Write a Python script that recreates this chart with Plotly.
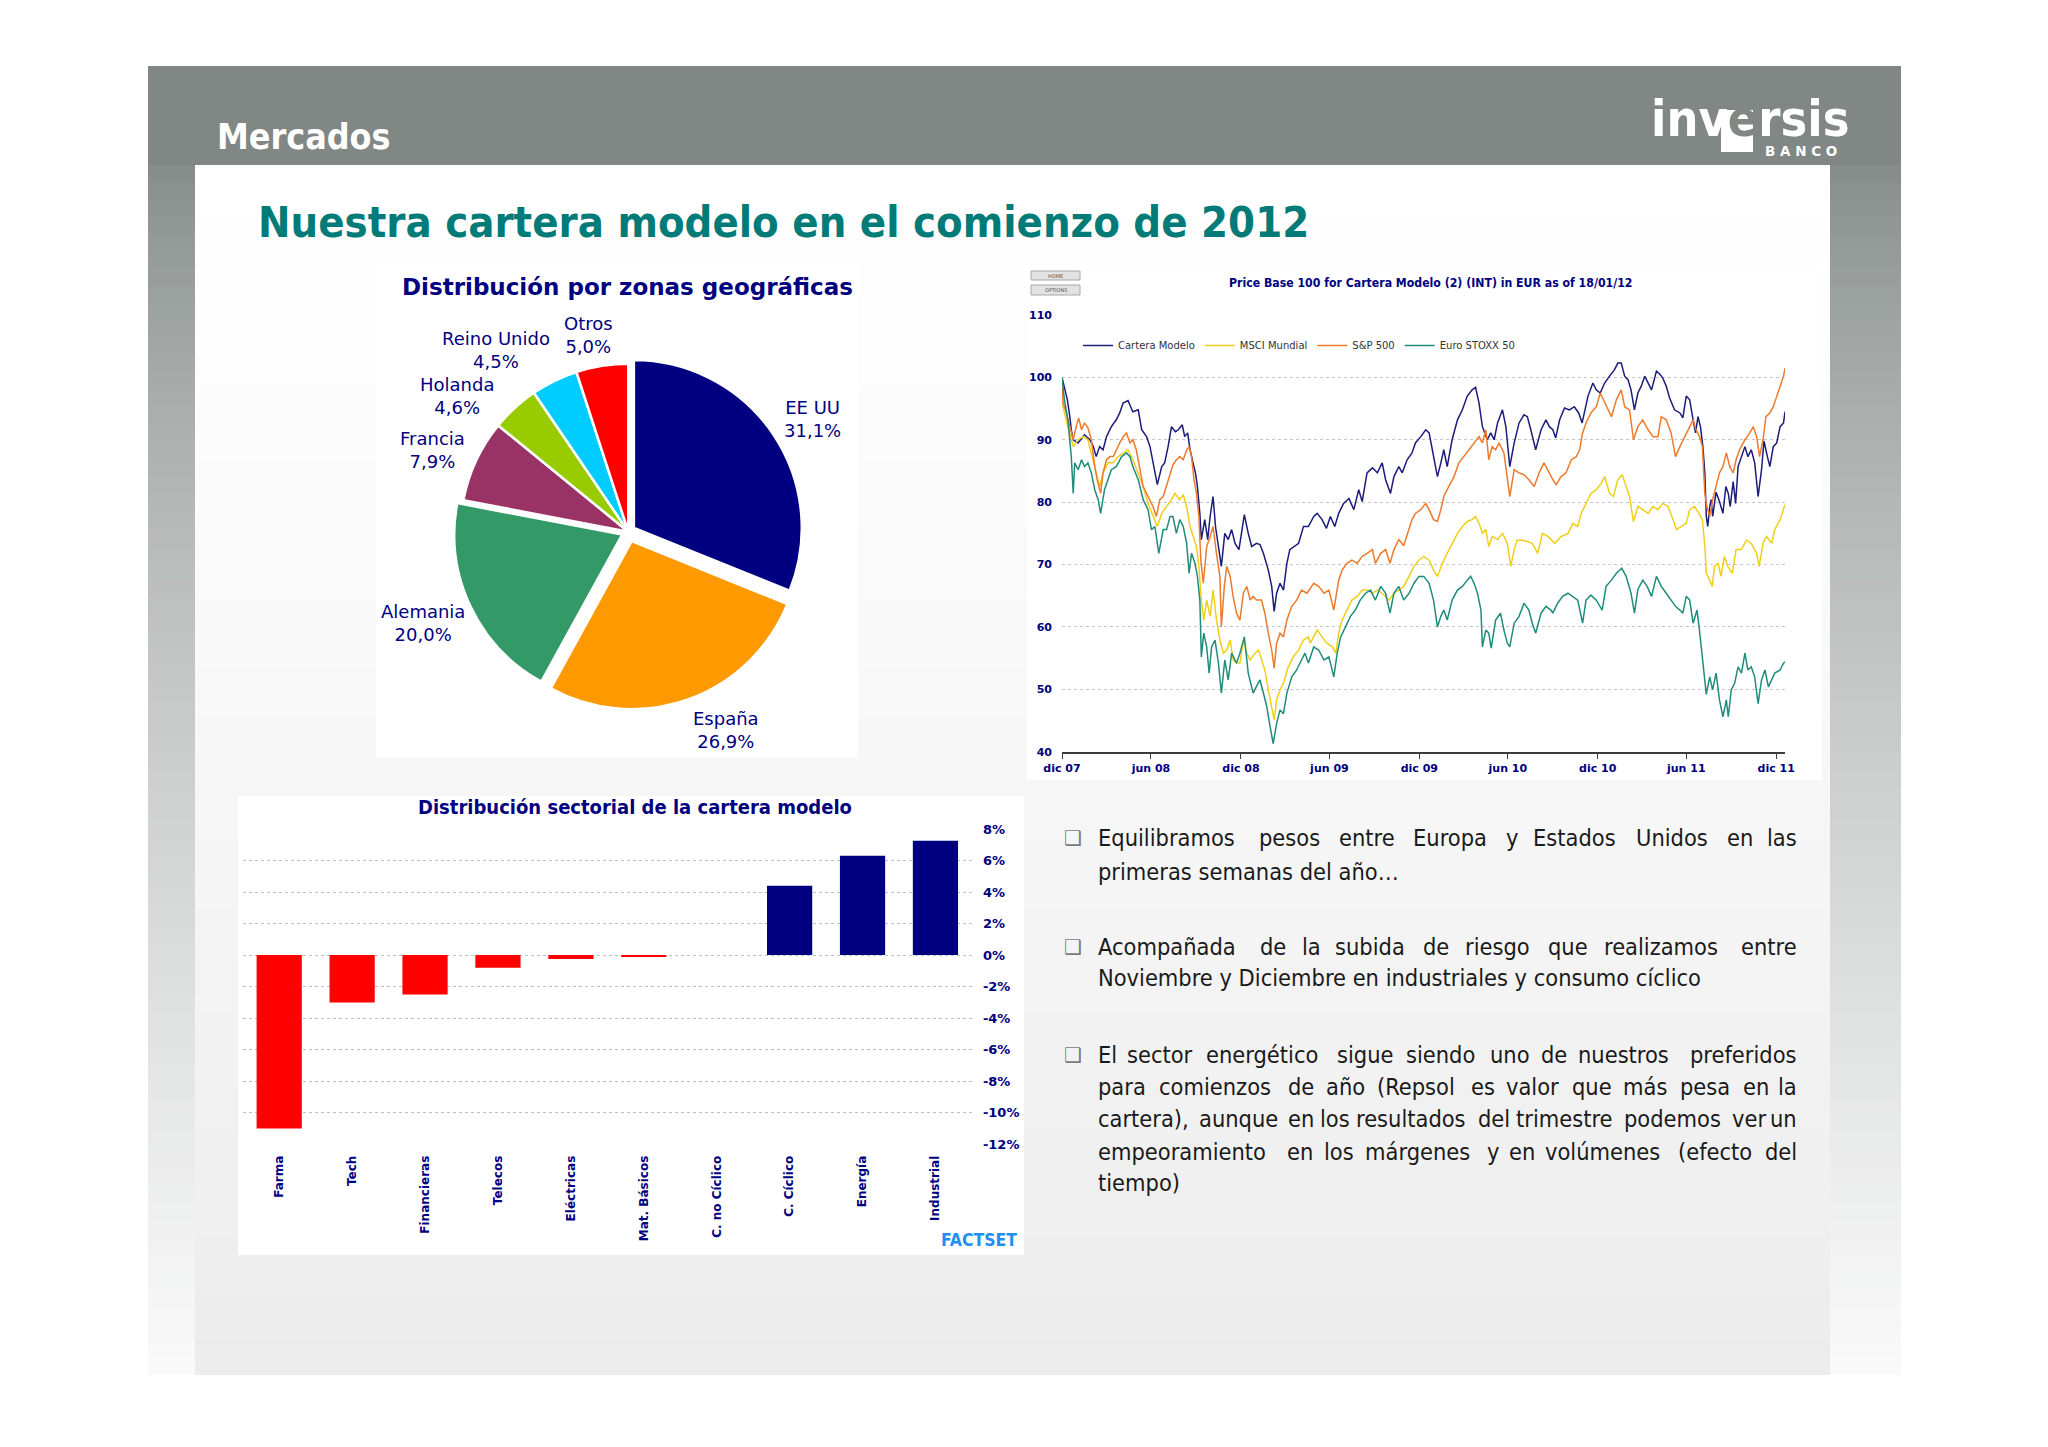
import plotly.graph_objects as go
import pandas as pd

W, H = 2048, 1447


def X(p):
    return p / W


def Y(p):
    return 1 - p / H


NAVY = '#000080'
F_V = 'DejaVu Sans'
F_T = 'DejaVu Sans Condensed, DejaVu Sans'

# ---------------- data: pie ----------------
pie_labels = ['EE UU', 'España', 'Alemania', 'Francia', 'Holanda', 'Reino Unido', 'Otros']
pie_values = [31.1, 26.9, 20.0, 7.9, 4.6, 4.5, 5.0]
pie_colors = ['#000080', '#FF9900', '#339966', '#993366', '#99CC00', '#00CCFF', '#FF0000']
pie_pull = [0.04, 0.06, 0.04, 0, 0, 0, 0]

# ---------------- data: bars ----------------
sectors = ['Farma', 'Tech', 'Financieras', 'Telecos', 'Eléctricas', 'Mat. Básicos',
           'C. no Cíclico', 'C. Cíclico', 'Energía', 'Industrial']
sector_values = [-11.0, -3.0, -2.5, -0.8, -0.25, -0.1, 0.0, 4.4, 6.3, 7.25]
bar_ticks = [-12, -10, -8, -6, -4, -2, 0, 2, 4, 6, 8]

# ---------------- data: lines (days since 31/12/2007, value) ----------------
series_start = '2007-12-31'
series_end = '2012-01-18'
line_ticks = ['2007-12-31', '2008-06-30', '2008-12-31', '2009-06-30', '2009-12-31',
              '2010-06-30', '2010-12-31', '2011-06-30', '2011-12-31']
line_tick_labels = ['dic 07', 'jun 08', 'dic 08', 'jun 09', 'dic 09',
                    'jun 10', 'dic 10', 'jun 11', 'dic 11']
y_ticks_line = [40, 50, 60, 70, 80, 90, 100, 110]

cartera = [(0,100),(7,98.0),(11,96.4),(16,93.7),(19,91.6),(23,90.0),(33,89.5),(46,90.8),(57,90.0),(64,88.9),
 (70,87.3),(77,88.9),(84,88.4),(91,90.5),(101,92.1),(111,93.2),(118,94.3),(125,95.9),(135,96.3),(145,94.5),
 (156,94.8),(163,91.6),(173,90.5),(180,88.9),(186,86.3),(195,82.8),(204,85.7),(210,86.3),(217,88.9),(224,92.1),
 (232,91.3),(238,91.6),(246,92.4),(251,90.5),(257,91.1),(262,88.4),(268,86.3),(273,84.7),(277,82.5),(282,78.2),
 (285,74.0),(289,75.6),(292,77.2),(298,74.0),(303,77.7),(309,80.9),(314,76.1),(320,72.9),(326,69.7),(333,75.0),
 (340,74.0),(347,75.6),(354,73.4),(362,72.4),(373,78.0),(381,75.0),(388,72.9),(398,73.4),(405,73.2),(412,71.8),
 (422,69.1),(429,66.5),(434,62.5),(439,65.4),(446,67.0),(453,65.9),(460,70.2),(466,72.4),(476,72.9),(484,73.4),
 (494,76.1),(504,76.1),(515,77.7),(522,78.2),(532,77.2),(541,75.8),(549,77.7),(558,76.1),(566,78.2),(576,79.8),
 (587,80.6),(597,78.8),(607,82.0),(614,80.1),(624,84.7),(635,85.5),(645,84.7),(655,86.3),(662,83.6),(672,81.4),
 (679,84.1),(689,85.7),(696,84.7),(706,86.8),(716,87.9),(723,89.5),(734,90.5),(744,91.6),(751,91.1),(758,88.4),
 (768,84.1),(775,86.3),(781,88.4),(788,85.7),(798,90.0),(809,93.2),(819,94.8),(829,97.0),(839,98.0),(846,98.4),
 (853,95.9),(860,92.1),(865,91.1),(870,90.0),(877,91.1),(884,90.0),(891,92.7),(901,94.8),(908,92.1),(916,85.7),
 (925,89.5),(935,92.7),(945,94.0),(952,93.7),(959,91.6),(969,88.4),(980,91.6),(990,93.2),(997,92.1),(1004,91.6),
 (1010,90.3),(1018,93.2),(1028,95.1),(1038,94.8),(1048,95.3),(1057,94.3),(1064,92.7),(1069,94.3),(1076,97.0),
 (1086,99.1),(1093,98.0),(1101,97.5),(1110,99.1),(1120,100.2),(1130,101.2),(1137,102.3),(1144,102.3),(1151,100.2),
 (1158,99.6),(1164,98.0),(1171,94.8),(1178,97.5),(1185,98.6),(1192,100.2),(1199,99.1),(1206,98.0),(1216,101.0),
 (1223,100.5),(1229,99.9),(1236,98.6),(1243,96.7),(1253,94.8),(1264,94.3),(1270,93.5),(1277,97.0),(1284,96.4),
 (1291,93.2),(1296,91.1),(1301,93.7),(1306,92.1),(1311,88.9),(1315,84.7),(1318,77.7),(1321,76.1),(1325,79.3),
 (1328,80.4),(1331,77.7),(1338,81.6),(1345,80.1),(1352,78.2),(1358,82.5),(1363,81.4),(1367,79.3),(1373,83.3),
 (1378,79.8),(1383,85.7),(1390,87.3),(1397,88.9),(1403,87.3),(1410,88.4),(1417,86.3),(1424,80.9),(1431,85.2),
 (1436,89.8),(1443,87.3),(1448,85.7),(1455,88.9),(1462,89.5),(1469,92.1),(1476,92.7),(1479,94.5)]

msci = [(0,100),(2,95.3),(12,92.1),(23,88.9),(33,90.0),(43,90.5),(53,90.0),(64,86.8),(70,84.7),(77,82.5),
 (84,84.7),(94,86.3),(105,86.3),(115,87.3),(125,87.9),(135,88.4),(145,86.8),(156,84.7),(166,82.5),(176,79.8),
 (186,77.7),(195,76.1),(204,78.2),(214,79.3),(224,80.4),(231,81.4),(241,80.4),(248,81.2),(255,79.3),(262,76.1),
 (268,74.5),(275,72.9),(280,69.7),(285,64.3),(290,61.1),(296,64.3),(303,61.7),(309,65.9),(316,61.1),(323,57.9),
 (330,55.8),(337,56.3),(344,57.9),(350,54.7),(357,54.2),(364,54.2),(371,57.9),(378,55.8),(385,54.7),(395,55.8),
 (402,56.3),(408,54.7),(415,53.1),(422,49.9),(429,47.2),(434,45.1),(439,48.3),(446,49.9),(453,51.0),(463,53.6),
 (473,55.2),(484,56.3),(494,57.9),(504,58.4),(508,57.4),(522,59.5),(532,58.4),(542,57.4),(553,56.8),(560,55.8),
 (566,59.0),(573,61.1),(583,62.7),(593,64.3),(604,64.9),(614,65.9),(624,65.9),(635,65.4),(645,65.9),(655,65.4),
 (669,64.3),(679,65.4),(689,65.9),(699,66.5),(710,68.1),(720,69.7),(730,70.7),(740,71.3),(751,70.7),(760,69.1),
 (768,68.1),(778,70.2),(788,71.8),(798,73.4),(809,75.0),(819,76.1),(829,76.9),(839,77.2),(846,77.7),(853,76.6),
 (860,75.0),(867,75.6),(873,72.9),(880,74.5),(891,74.0),(901,75.0),(911,73.4),(918,69.7),(925,72.4),(931,73.9),
 (942,73.9),(952,73.7),(962,73.4),(973,71.8),(983,75.0),(994,74.5),(1008,73.4),(1021,74.5),(1035,75.0),(1045,76.6),
 (1055,76.1),(1062,78.2),(1072,79.8),(1082,81.4),(1093,82.0),(1103,83.0),(1110,84.1),(1120,81.4),(1128,80.9),
 (1137,83.6),(1146,84.4),(1154,82.5),(1161,80.9),(1169,76.9),(1178,79.3),(1188,78.8),(1199,78.2),(1209,79.3),
 (1219,78.8),(1229,79.8),(1240,79.3),(1250,77.2),(1257,75.6),(1267,76.1),(1277,76.6),(1284,78.8),(1294,79.3),
 (1303,78.2),(1310,77.2),(1315,72.9),(1318,68.6),(1325,67.5),(1330,66.5),(1335,69.7),(1342,70.2),(1348,68.1),
 (1355,71.3),(1362,69.7),(1371,68.6),(1379,72.4),(1390,72.4),(1400,73.9),(1410,73.4),(1421,71.8),(1426,69.7),
 (1434,73.4),(1441,74.5),(1452,73.4),(1458,75.6),(1469,77.2),(1476,78.8),(1479,79.6)]

sp500 = [(0,100),(2,95.9),(9,94.3),(16,92.1),(23,90.0),(29,92.1),(34,93.5),(40,91.6),(46,92.7),(53,91.9),
 (60,90.0),(67,85.7),(72,83.6),(79,81.4),(84,84.7),(91,86.8),(98,87.3),(105,87.3),(111,88.4),(118,89.5),
 (125,90.5),(132,91.1),(139,89.5),(145,90.0),(152,88.4),(159,85.7),(166,82.5),(173,81.4),(180,80.4),(186,79.3),
 (193,77.7),(200,80.4),(207,80.9),(214,82.8),(221,84.7),(227,86.0),(234,86.8),(241,87.3),(248,86.8),(255,88.4),
 (260,88.9),(265,87.3),(270,83.6),(275,81.4),(280,77.7),(284,70.7),(289,67.0),(296,72.9),(303,74.5),(309,76.1),
 (316,71.8),(323,68.1),(326,60.0),(332,66.5),(337,69.7),(344,68.1),(350,64.9),(357,62.2),(364,61.1),(371,65.4),
 (378,66.5),(385,64.3),(391,64.9),(398,64.3),(408,64.3),(415,62.2),(422,59.0),(429,56.3),(434,53.4),(439,57.4),
 (446,59.0),(453,58.4),(460,61.1),(470,63.3),(480,64.3),(490,65.9),(501,65.4),(515,67.0),(525,66.5),(536,65.4),
 (546,65.9),(556,62.7),(566,67.5),(573,69.1),(583,70.2),(593,70.7),(604,70.2),(614,71.3),(624,71.8),(635,72.4),
 (641,70.2),(652,71.8),(662,72.4),(671,70.2),(679,72.4),(689,74.0),(699,73.0),(710,75.6),(716,77.2),(723,78.2),
 (734,78.8),(744,79.8),(751,78.8),(760,77.2),(768,76.9),(775,78.8),(781,80.9),(791,82.5),(802,84.1),(812,86.3),
 (822,87.3),(832,88.4),(843,89.5),(853,90.5),(860,89.5),(867,91.6),(873,86.8),(880,88.9),(887,88.4),(894,89.5),
 (904,87.9),(911,84.1),(916,80.9),(925,85.2),(935,84.7),(945,84.4),(955,83.6),(966,82.5),(976,84.7),(986,86.3),
 (997,84.6),(1004,83.6),(1011,82.8),(1021,84.1),(1031,84.7),(1042,86.8),(1052,87.3),(1059,88.4),(1065,91.1),
 (1072,92.7),(1082,94.3),(1093,95.3),(1101,97.5),(1108,96.4),(1117,94.8),(1124,93.7),(1134,96.4),(1144,98.0),
 (1151,95.3),(1161,94.8),(1169,90.0),(1178,92.1),(1188,93.2),(1199,91.6),(1209,90.5),(1219,90.5),(1226,93.7),
 (1236,93.2),(1246,91.1),(1255,87.3),(1264,88.9),(1274,90.5),(1284,92.1),(1291,93.2),(1297,91.6),(1304,90.5),
 (1310,88.9),(1315,81.4),(1319,79.3),(1325,77.7),(1331,80.4),(1338,82.5),(1345,84.7),(1352,85.7),(1359,87.9),
 (1366,85.7),(1373,84.7),(1379,86.8),(1386,88.4),(1397,90.0),(1407,91.1),(1414,92.1),(1421,90.5),(1427,87.3),
 (1434,90.0),(1440,93.7),(1448,94.3),(1455,95.3),(1462,97.0),(1469,98.6),(1476,100.2),(1479,101.5)]

eurostoxx = [(0,100),(5,96.4),(12,93.2),(19,87.3),(23,81.4),(26,86.3),(33,85.2),(40,86.8),(46,85.7),(53,86.3),
 (60,84.7),(67,82.0),(74,80.4),(79,78.2),(87,82.0),(94,83.6),(101,85.2),(111,85.7),(122,87.3),(132,87.9),
 (139,87.3),(145,85.7),(156,83.6),(166,80.4),(176,78.8),(183,75.6),(190,76.1),(198,71.8),(207,75.6),(214,75.6),
 (221,77.7),(227,77.7),(234,75.0),(241,77.2),(248,76.1),(255,73.4),(260,68.6),(265,71.8),(272,70.2),(277,68.1),
 (282,64.3),(285,55.2),(290,59.0),(296,56.8),(301,52.6),(306,56.8),(313,57.9),(320,54.2),(326,49.4),(333,54.7),
 (340,51.5),(347,55.8),(357,54.2),(364,55.8),(373,58.4),(381,52.6),(391,49.4),(398,50.5),(405,51.5),(412,49.4),
 (419,47.2),(426,43.9),(432,41.3),(439,44.5),(446,46.7),(453,46.1),(460,49.4),(470,52.0),(480,53.1),(490,54.7),
 (497,55.8),(504,54.2),(515,56.8),(525,56.3),(536,54.7),(546,55.2),(556,52.0),(563,55.8),(570,58.4),(580,60.0),
 (590,61.7),(600,62.7),(610,64.3),(621,65.4),(631,65.9),(641,64.3),(652,66.5),(662,65.4),(671,62.2),(679,65.4),
 (689,66.5),(699,64.3),(710,65.4),(720,67.0),(730,68.1),(740,68.1),(751,67.0),(760,64.3),(768,60.0),(775,61.7),
 (781,62.7),(788,61.1),(798,64.3),(809,65.9),(819,66.5),(829,67.5),(836,68.1),(843,67.0),(850,65.4),(857,62.7),
 (860,56.8),(867,59.5),(873,59.0),(878,56.6),(887,61.1),(897,62.2),(904,59.5),(911,57.4),(916,56.8),(925,60.6),
 (935,61.7),(945,63.8),(955,62.7),(962,60.6),(969,59.0),(980,62.2),(990,63.3),(1000,62.7),(1004,62.2),(1014,63.8),
 (1024,64.9),(1035,65.4),(1045,64.9),(1055,64.3),(1065,60.6),(1072,64.3),(1082,65.1),(1093,64.3),(1105,62.7),
 (1113,66.5),(1124,67.5),(1134,68.6),(1145,69.4),(1154,68.1),(1164,65.4),(1171,62.2),(1178,66.0),(1188,67.5),
 (1197,66.5),(1206,64.9),(1216,68.1),(1226,66.5),(1236,65.4),(1246,64.3),(1255,63.3),(1264,62.7),(1270,62.2),
 (1277,64.9),(1284,64.3),(1291,60.6),(1299,62.7),(1304,59.5),(1311,54.5),(1318,49.2),(1325,52.0),(1331,49.9),
 (1338,52.6),(1345,48.3),(1352,45.6),(1359,48.3),(1363,45.6),(1369,49.9),(1376,51.0),(1383,53.6),(1390,52.6),
 (1397,55.8),(1403,53.1),(1410,53.6),(1417,52.0),(1424,47.7),(1431,51.5),(1438,53.1),(1445,50.4),(1452,51.5),
 (1458,52.6),(1469,53.1),(1476,54.2),(1479,54.4)]

series_names = ['Cartera Modelo', 'MSCI Mundial', 'S&P 500', 'Euro STOXX 50']
series_data = [cartera, msci, sp500, eurostoxx]
series_colors = ['#1c1c7c', '#f0cf1c', '#ee7a2c', '#1f8c7c']

# ---------------- text ----------------
title_text = 'Nuestra cartera modelo en el comienzo de 2012'
section_text = 'Mercados'
pie_title = 'Distribución por zonas geográficas'
bar_title = 'Distribución sectorial de la cartera modelo'
line_title = 'Price Base 100 for Cartera Modelo (2) (INT) in EUR as of 18/01/12'
body_lines = [
    (838, True, 'Equilibramos pesos entre Europa y Estados Unidos en las'),
    (872, False, 'primeras semanas del año…'),
    (947, True, 'Acompañada de la subida de riesgo que realizamos entre'),
    (978, False, 'Noviembre y Diciembre en industriales y consumo cíclico'),
    (1055, True, 'El sector energético sigue siendo uno de nuestros preferidos'),
    (1087, True, 'para comienzos de año (Repsol es valor que más pesa en la'),
    (1119, True, 'cartera), aunque en los resultados del trimestre podemos ver un'),
    (1152, True, 'empeoramiento en los márgenes y en volúmenes (efecto del'),
    (1183, False, 'tiempo)'),
]
bullet_rows = [838, 947, 1055]

fig = go.Figure()
shapes = []
annotations = []


def rect(x0, y0, x1, y1, fill, line=None, lw=0, layer='below'):
    shapes.append(dict(type='rect', xref='paper', yref='paper', x0=X(x0), x1=X(x1),
                       y0=Y(y1), y1=Y(y0), fillcolor=fill, layer=layer,
                       line=dict(color=line or fill, width=lw)))


def ann(text, x, y, size, color, family=F_T, bold=False, xanchor='left', yanchor='middle', **kw):
    d = dict(text=text, x=X(x), y=Y(y), xref='paper', yref='paper',
             xanchor=xanchor, yanchor=yanchor, showarrow=False,
             font=dict(family=family, size=size, color=color,
                       weight='bold' if bold else 'normal'))
    d.update(kw)
    annotations.append(d)


def lerp(c0, c1, t):
    return 'rgb(%d,%d,%d)' % tuple(round(a + (b - a) * t) for a, b in zip(c0, c1))


# approximate advance widths (em) of DejaVu Sans, used to justify the body text
CW = {' ': .318, 'a': .613, 'b': .635, 'c': .550, 'd': .635, 'e': .615, 'f': .352, 'g': .635,
      'h': .634, 'i': .278, 'j': .278, 'k': .579, 'l': .278, 'm': .974, 'n': .634, 'o': .612,
      'p': .635, 'q': .635, 'r': .411, 's': .521, 't': .392, 'u': .634, 'v': .592, 'w': .818,
      'x': .592, 'y': .592, 'z': .525, 'A': .684, 'E': .632, 'U': .732, 'N': .748, 'D': .770,
      'R': .695, '(': .390, ')': .390, ',': .318, '.': .318, '…': 1.0}
ACC = {'á': 'a', 'é': 'e', 'í': 'i', 'ó': 'o', 'ú': 'u', 'ñ': 'n'}


def text_width(s, size, cond=0.97):
    # deliberately generous estimate so that no inter-word gap collapses
    return sum(CW.get(ACC.get(ch, ch), 0.6) for ch in s) * size * cond


# outer grey frame with vertical gradient
rect(148, 66, 1901, 166, 'rgb(128,135,132)')
N = 70
for i in range(N):
    y0 = 165 + (1375 - 165) * i / N
    y1 = 165 + (1375 - 165) * (i + 1) / N + 1
    t = ((i + 0.5) / N) ** 0.7
    rect(148, y0, 1901, min(y1, 1375), lerp((130, 137, 134), (250, 250, 250), t))
# inner panel (white -> light grey)
for i in range(N):
    y0 = 165 + (1375 - 165) * i / N
    y1 = 165 + (1375 - 165) * (i + 1) / N + 1
    t = ((i + 0.5) / N) ** 1.2
    rect(195, y0, 1830, min(y1, 1375), lerp((255, 255, 255), (236, 236, 236), t))
# chart panels
rect(376, 261, 858, 758, '#ffffff')
rect(238, 796, 1024, 1255, '#ffffff')
rect(1027, 266, 1822, 780, '#ffffff')

# header texts
ann(section_text, 215, 136, 35.5, '#ffffff', F_T, True)
ann(title_text, 256, 222, 43.2, '#007B78', F_T, True)
# logo (text box height trimmed below the baseline so it does not cover "BANCO")
rect(1721, 110, 1753, 152, '#ffffff')
ann("inv<span style='color:#818884'>e</span>rsis", 1649, 88, 50, '#ffffff', F_T, True,
    'left', 'top', height=47, valign='top')
ann('B A N C O', 1801, 151, 13.5, '#ffffff', F_V, True, 'center')

# chart titles
ann(pie_title, 627, 287, 23, NAVY, F_V, True, 'center')
ann(bar_title, 635, 807, 20, NAVY, F_T, True, 'center')
ann(line_title, 1430, 283, 12.2, NAVY, F_T, True, 'center')
ann('FACTSET', 1019, 1240, 17.5, '#1f8ff0', F_T, True, 'right')

# small HOME / OPTIONS buttons of the source tool
rect(1031, 271, 1080, 280, '#e2e2e2', '#a8a8a8', 1)
rect(1031, 285, 1080, 295, '#e2e2e2', '#a8a8a8', 1)
ann('HOME', 1055.5, 275.5, 5, '#555555', F_V, False, 'center')
ann('OPTIONS', 1055.5, 290, 5, '#555555', F_V, False, 'center')

# pie slice labels (placed as in the reference)
pie_label_pos = [(812, 419), (726, 730), (423, 623), (432, 450), (457, 396), (496, 350), (588, 335)]
for lab, v, (lx, ly) in zip(pie_labels, pie_values, pie_label_pos):
    ann(f"{lab}<br>{str(v).replace('.', ',')}%", lx, ly, 18, NAVY, F_V, False, 'center')

# ---------------- body text (justified word by word) ----------------
LEFT, RIGHT = 1096, 1799
BODY_SIZE = 23.4
for ly, justified, line in body_lines:
    if not justified:
        ann(line, LEFT, ly, BODY_SIZE, '#1a1a1a', F_T, False, 'left')
        continue
    words = line.split(' ')
    widths = [text_width(w, BODY_SIZE) for w in words]
    gap = (RIGHT - LEFT - sum(widths)) / (len(words) - 1)
    xpos = LEFT
    for k, (w, ww) in enumerate(zip(words, widths)):
        if k == len(words) - 1:
            ann(w, RIGHT, ly, BODY_SIZE, '#1a1a1a', F_T, False, 'right')
        else:
            ann(w, xpos, ly, BODY_SIZE, '#1a1a1a', F_T, False, 'left')
        xpos += ww + gap
for by in bullet_rows:
    ann('❑', 1073, by, 20, '#7a7a7a', F_V, False, 'center')

# ---------------- pie ----------------
fig.add_trace(go.Pie(
    labels=pie_labels, values=pie_values, textinfo='none',
    sort=False, direction='clockwise', rotation=0,
    pull=pie_pull, marker=dict(colors=pie_colors, line=dict(color='#ffffff', width=2.5)),
    domain=dict(x=[X(450.3), X(806.3)], y=[Y(709.7), Y(353.7)]),
    showlegend=False, hoverinfo='skip'))

# ---------------- bars ----------------
fig.add_trace(go.Bar(
    x=sectors, y=sector_values, width=0.62,
    marker=dict(color=['#FF0000' if v < 0 else '#000080' for v in sector_values], line=dict(width=0)),
    xaxis='x', yaxis='y', showlegend=False, hoverinfo='skip'))

# ---------------- lines ----------------
t0 = pd.Timestamp(series_start)
for name, data, col in zip(series_names, series_data, series_colors):
    days = [d for d, _ in data]
    vals = [v for _, v in data]
    dates = (t0 + pd.to_timedelta(days, unit='D')).strftime('%Y-%m-%d').tolist()
    fig.add_trace(go.Scatter(x=dates, y=vals, mode='lines', name=name,
                             line=dict(color=col, width=1.5),
                             xaxis='x2', yaxis='y2', hoverinfo='skip'))

bar_tickfont = dict(family=F_V, size=13, color=NAVY, weight='bold')
line_tickfont = dict(family=F_V, size=11, color=NAVY, weight='bold')

fig.update_layout(
    width=W, height=H, autosize=False,
    margin=dict(l=0, r=0, t=0, b=0, pad=0, autoexpand=False),
    paper_bgcolor='#ffffff', plot_bgcolor='rgba(0,0,0,0)',
    shapes=shapes, annotations=annotations,
    bargap=0.38,
    xaxis=dict(domain=[X(242.75), X(971.9)], anchor='y', tickangle=-90, automargin=False,
               tickfont=dict(family=F_V, size=12, color=NAVY, weight='bold'),
               showgrid=False, showline=False, ticks='', zeroline=False,
               ticklabelstandoff=8, fixedrange=True),
    yaxis=dict(domain=[Y(1144.3), Y(829)], anchor='x', side='right', range=[-12, 8], automargin=False,
               tickvals=bar_ticks, ticktext=[f'{v}%' for v in bar_ticks],
               showgrid=True, gridcolor='#bdbdbd', griddash='dot', gridwidth=1,
               zeroline=False, showline=False, ticks='', tickfont=bar_tickfont,
               ticklabelstandoff=10, fixedrange=True),
    xaxis2=dict(domain=[X(1062), X(1785)], anchor='y2', type='date', automargin=False,
                range=[series_start, series_end], tickvals=line_ticks, ticktext=line_tick_labels,
                showline=True, linecolor='#3c3c3c', linewidth=2, ticks='outside', ticklen=5,
                tickcolor='#3c3c3c', showgrid=False, zeroline=False, tickfont=line_tickfont),
    yaxis2=dict(domain=[Y(751.7), Y(315)], anchor='x2', range=[40, 110], tickvals=y_ticks_line,
                automargin=False,
                showgrid=True, gridcolor='#c6c6c6', griddash='dot', gridwidth=1, zeroline=False,
                showline=False, ticks='', tickfont=line_tickfont, ticklabelstandoff=9),
    yaxis3=dict(overlaying='y2', anchor='x2', side='right', range=[40, 110], tickvals=y_ticks_line,
                automargin=False,
                showgrid=False, zeroline=False, showline=False, ticks='', tickfont=line_tickfont,
                ticklabelstandoff=9),
    legend=dict(x=X(1078), y=Y(345.5), xanchor='left', yanchor='middle', orientation='h',
                font=dict(family=F_V, size=10, color='#333333'), bgcolor='rgba(0,0,0,0)',
                itemwidth=30, tracegroupgap=0),
)

fig.write_html('out.html', config={'displayModeBar': False},
               post_script="document.body.style.margin='0';document.body.style.overflow='hidden';")
